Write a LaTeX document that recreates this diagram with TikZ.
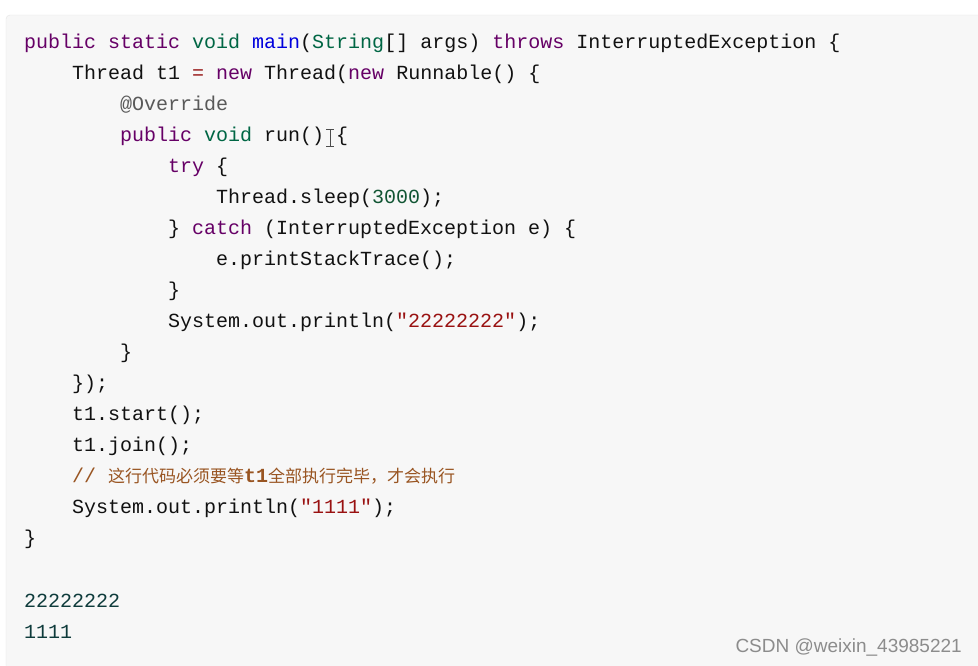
\documentclass[tikz,border=0pt]{standalone}
\usepackage{fontspec}
\setmonofont{Liberation Mono}
\newfontfamily\cjk{Noto Sans CJK SC}
\newfontfamily\wm{Liberation Sans}
\definecolor{kw}{HTML}{660066}
\definecolor{ty}{HTML}{006644}
\definecolor{fn}{HTML}{0000DD}
\definecolor{st}{HTML}{991111}
\definecolor{nu}{HTML}{115533}
\definecolor{cm}{HTML}{995522}
\definecolor{op}{HTML}{981A1A}
\definecolor{outc}{HTML}{0E3B3B}
\definecolor{txt}{HTML}{111111}
\newcommand{\K}[1]{\textcolor{kw}{#1}}
\newcommand{\T}[1]{\textcolor{ty}{#1}}
\begin{document}
\begin{tikzpicture}[x=1pt,y=-1pt,
  code/.style={anchor=base west,inner sep=0pt,font=\fontsize{20}{20}\ttfamily,text=txt}]
\useasboundingbox (0,0) rectangle (978,665);
\fill[white] (0,0) rectangle (978,665);
\draw[fill=black!3,draw=black!10,rounded corners=4pt] (6,15) rectangle (1000,700);
\node[code] (l1) at (24,48) {\K{public} \K{static} \T{void} \textcolor{fn}{main}(\T{String}[] args) \K{throws} InterruptedException \{};
\node[code] (l2) at (72,79) {Thread t1 \textcolor{op}{=} \K{new} Thread(\K{new} Runnable() \{};
\node[code] (l3) at (120,110) {\textcolor{black!65}{@Override}};
\node[code] (l4) at (120,141) {\K{public} \T{void} run()\hspace{12pt}\{};
\node[code] (l5) at (168,172) {\K{try} \{};
\node[code] (l6) at (216,203) {Thread.sleep(\textcolor{nu}{3000});};
\node[code] (l7) at (168,234) {\} \K{catch} (InterruptedException e) \{};
\node[code] (l8) at (216,265) {e.printStackTrace();};
\node[code] (l9) at (168,296) {\}};
\node[code] (l10) at (168,327) {System.out.println(\textcolor{st}{"22222222"});};
\node[code] (l11) at (120,358) {\}};
\node[code] (l12) at (72,389) {\});};
\node[code] (l13) at (72,420) {t1.start();};
\node[code] (l14) at (72,451) {t1.join();};
\node[code,text=cm] (l15) at (72,482) {// {\cjk\fontsize{17}{17}\selectfont 这行代码必须要等}\textbf{t1}{\cjk\fontsize{17}{17}\selectfont 全部执行完毕，才会执行}};
\node[code] (l16) at (72,513) {System.out.println(\textcolor{st}{"1111"});};
\node[code] (l17) at (24,544) {\}};
\node[code,text=outc] (o1) at (24,607) {22222222};
\node[code,text=outc] (o2) at (24,638) {1111};
\node[anchor=base east,inner sep=0pt,font=\wm\fontsize{19}{19}\selectfont,text=black!45] (wm) at (962,652) {CSDN @weixin\_43985221};
\draw[black!70,line width=0.8pt] (330,129)--(330,146) (326,129)--(334,129) (326,146)--(334,146);
\end{tikzpicture}
\end{document}
